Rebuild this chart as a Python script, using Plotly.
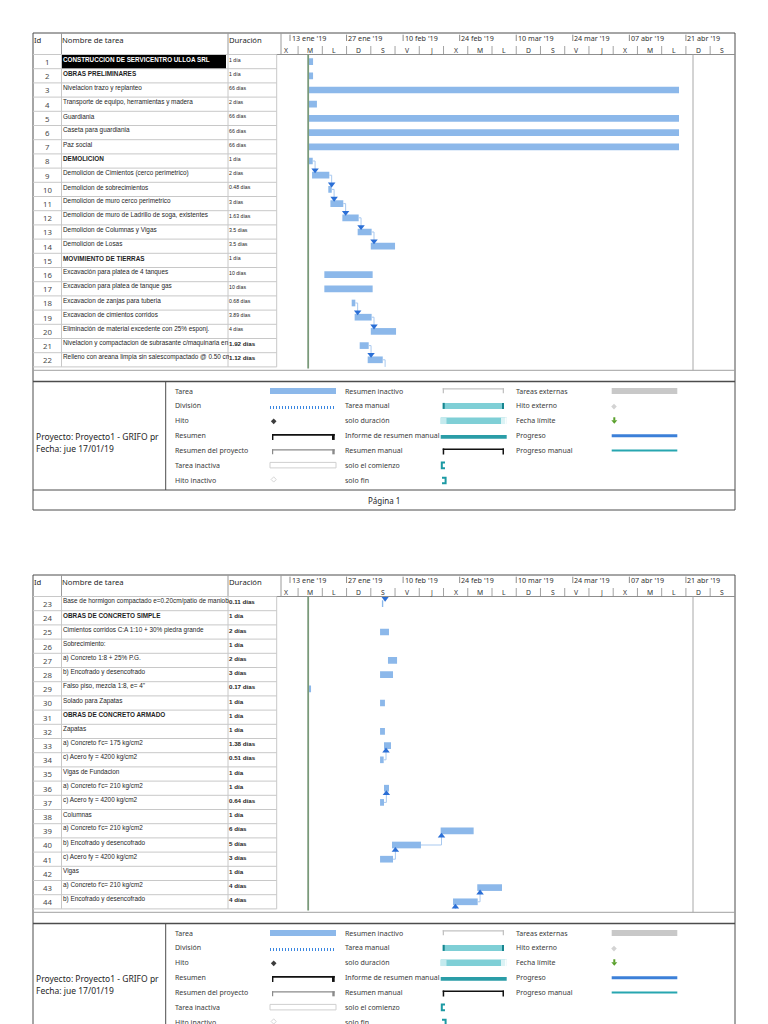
import plotly.graph_objects as go
from datetime import datetime, timedelta

# ---------------- data ----------------
TASK_IDS = list(range(1, 45))
TASK_NAMES = [
    "CONSTRUCCION DE SERVICENTRO ULLOA SRL",
    "OBRAS PRELIMINARES",
    "Nivelacion trazo y replanteo",
    "Transporte de equipo, herramientas y madera",
    "Guardiania",
    "Caseta para guardiania",
    "Paz social",
    "DEMOLICION",
    "Demolicion de Cimientos (cerco perimetrico)",
    "Demolicion de sobrecimientos",
    "Demolicion de muro cerco perimetrico",
    "Demolicion de muro de Ladrillo de soga, existentes",
    "Demolicion de Columnas y Vigas",
    "Demolicion de Losas",
    "MOVIMIENTO DE TIERRAS",
    "Excavación para platea de 4 tanques",
    "Excavacion para platea de tanque gas",
    "Excavacion de zanjas para tuberia",
    "Excavacion de cimientos corridos",
    "Eliminación de material excedente con 25% esponj.",
    "Nivelacion y compactacion de subrasante c/maquinaria en",
    "Relleno con areana limpia sin salescompactado @ 0.50 cm",
    "Base de hormigon compactado e=0.20cm/patio de maniobr",
    "OBRAS DE CONCRETO SIMPLE",
    "Cimientos corridos C:A 1:10 + 30% piedra grande",
    "Sobrecimiento:",
    "a) Concreto 1:8 + 25% P.G.",
    "b) Encofrado y desencofrado",
    "Falso piso, mezcla 1:8, e= 4\"",
    "Solado para Zapatas",
    "OBRAS DE CONCRETO ARMADO",
    "Zapatas",
    "a) Concreto f'c= 175 kg/cm2",
    "c) Acero fy = 4200 kg/cm2",
    "Vigas de Fundacion",
    "a) Concreto f'c= 210 kg/cm2",
    "c) Acero fy = 4200 kg/cm2",
    "Columnas",
    "a) Concreto f'c= 210 kg/cm2",
    "b) Encofrado y desencofrado",
    "c) Acero fy = 4200 kg/cm2",
    "Vigas",
    "a) Concreto f'c= 210 kg/cm2",
    "b) Encofrado y desencofrado",
]
DURATIONS = [
    "1 día", "1 día", "66 días", "2 días", "66 días", "66 días", "66 días", "1 día",
    "2 días", "0.48 días", "3 días", "1.63 días", "3.5 días", "3.5 días", "1 día",
    "10 días", "10 días", "0.68 días", "3.89 días", "4 días", "1.92 días", "1.12 días",
    "0.11 días", "1 día", "2 días", "1 día", "2 días", "3 días", "0.17 días", "1 día",
    "1 día", "1 día", "1.38 días", "0.51 días", "1 día", "1 día", "0.64 días", "1 día",
    "6 días", "5 días", "3 días", "1 día", "4 días", "4 días",
]
BOLD_NAME_IDS = [1, 2, 8, 15, 24, 31]
BOLD_DURATION_IDS = [21, 22] + list(range(23, 45))

START = [
    "2019-01-17 17:00", "2019-01-17 17:00", "2019-01-17 17:00", "2019-01-17 17:00",
    "2019-01-17 17:00", "2019-01-17 17:00", "2019-01-17 17:00", "2019-01-17 13:00",
    "2019-01-18 11:00", "2019-01-22 11:30", "2019-01-23 00:00", "2019-01-25 23:00",
    "2019-01-29 18:00", "2019-02-02 00:00", None, "2019-01-21 12:00",
    "2019-01-21 12:00", "2019-01-28 06:30", "2019-01-29 00:00", "2019-02-02 00:00",
    "2019-01-30 06:00", "2019-02-01 05:30",
    "2019-02-04 18:00", None, "2019-02-04 07:00", None,
    "2019-02-06 06:00", "2019-02-04 07:00", "2019-01-17 17:00", "2019-02-04 07:00",
    None, "2019-02-04 07:00", "2019-02-05 06:30", "2019-02-04 07:00",
    None, "2019-02-05 06:30", "2019-02-04 07:00", None,
    "2019-02-19 07:00", "2019-02-07 06:00", "2019-02-04 07:00", None,
    "2019-02-28 08:30", "2019-02-22 08:30",
]
FINISH = [
    "2019-01-18 17:00", "2019-01-18 17:00", "2019-04-19 07:00", "2019-01-19 16:00",
    "2019-04-19 07:00", "2019-04-19 07:00", "2019-04-19 07:00", "2019-01-18 15:00",
    "2019-01-22 17:30", "2019-01-23 08:00", "2019-01-26 04:30", "2019-01-30 00:00",
    "2019-02-02 05:00", "2019-02-08 00:00", None, "2019-02-02 11:00",
    "2019-02-02 11:00", "2019-01-29 04:00", "2019-02-02 05:00", "2019-02-08 06:00",
    "2019-02-01 11:30", "2019-02-04 23:00",
    "2019-02-05 02:00", None, "2019-02-06 12:00", None,
    "2019-02-08 12:00", "2019-02-07 12:00", "2019-01-18 05:00", "2019-02-05 12:00",
    None, "2019-02-05 12:00", "2019-02-07 00:00", "2019-02-05 04:30",
    None, "2019-02-06 12:00", "2019-02-05 06:30", None,
    "2019-02-27 11:00", "2019-02-14 10:00", "2019-02-07 12:00", None,
    "2019-03-06 11:30", "2019-02-28 11:00",
]
DEPENDENCIES = [(8, 9), (9, 10), (10, 11), (11, 12), (12, 13), (13, 14),
                (18, 19), (19, 20), (21, 22), (22, 23),
                (34, 33), (37, 36), (41, 40), (40, 39), (44, 43)]
INCOMING_FROM_NEXT_PAGE = [44]

TOP_TIER_DATES = ["2019-01-13", "2019-01-27", "2019-02-10", "2019-02-24",
                  "2019-03-10", "2019-03-24", "2019-04-07", "2019-04-21"]
TOP_TIER_LABELS = ["13 ene '19", "27 ene '19", "10 feb '19", "24 feb '19",
                   "10 mar '19", "24 mar '19", "07 abr '19", "21 abr '19"]
BOTTOM_TIER_DATES = ["2019-01-09", "2019-01-15", "2019-01-21", "2019-01-27", "2019-02-02",
                     "2019-02-08", "2019-02-14", "2019-02-20", "2019-02-26", "2019-03-04",
                     "2019-03-10", "2019-03-16", "2019-03-22", "2019-03-28", "2019-04-03",
                     "2019-04-09", "2019-04-15", "2019-04-21", "2019-04-27", "2019-05-03"]
BOTTOM_TIER_LABELS = ["X", "M", "L", "D", "S", "V", "J", "X", "M", "L",
                      "D", "S", "V", "J", "X", "M", "L", "D", "S"]
STATUS_DATE = "2019-01-17 12:00"

HEADERS = ["Id", "Nombre de tarea", "Duración"]
PROJECT_INFO = ["Proyecto: Proyecto1 - GRIFO pr", "Fecha: jue 17/01/19"]
LEGEND_COL1 = ["Tarea", "División", "Hito", "Resumen", "Resumen del proyecto",
               "Tarea inactiva", "Hito inactivo"]
LEGEND_COL2 = ["Resumen inactivo", "Tarea manual", "solo duración",
               "Informe de resumen manual", "Resumen manual", "solo el comienzo", "solo fin"]
LEGEND_COL3 = ["Tareas externas", "Hito externo", "Fecha límite", "Progreso", "Progreso manual"]
FOOTER = "Página 1"

# ---------------- layout constants ----------------
W, H = 768, 1024
PAGE_SHIFT = 542
ROW_H = 14.2
PX_PER_DAY = 4.04
ORIGIN_PX = 290
ORIGIN_DATE = datetime(2019, 1, 13)
TL_LEFT, TL_RIGHT = 281, 735
BAR_COLOR = "#8CB8EA"
ARIAL = "Liberation Sans, Arial, sans-serif"
SEGOE = "Noto Sans, Open Sans, sans-serif"
GRID = "#c8c8c8"
FRAME = "#4d4d4d"


def X(px):
    return px / W


def Y(py):
    return 1 - py / H


def dt(s):
    return datetime.strptime(s, "%Y-%m-%d %H:%M")


def fmt(d):
    return d.strftime("%Y-%m-%d %H:%M:%S")


shapes = []
annotations = []


def line(x0, y0, x1, y1, color, width=1, dash=None, xref="paper"):
    ln = dict(color=color, width=width)
    if dash:
        ln["dash"] = dash
    shapes.append(dict(type="line", xref=xref, yref="paper",
                       x0=X(x0) if xref == "paper" else x0,
                       x1=X(x1) if xref == "paper" else x1,
                       y0=Y(y0), y1=Y(y1), line=ln, layer="above"))


def rect(x0, y0, x1, y1, fill, border=None, bw=0):
    shapes.append(dict(type="rect", xref="paper", yref="paper",
                       x0=X(x0), x1=X(x1), y0=Y(y1), y1=Y(y0),
                       fillcolor=fill, line=dict(color=border or fill, width=bw),
                       layer="above"))


def path(points, fill=None, color=None, width=0, closed=True):
    d = "M " + " L ".join(f"{X(a):.5f},{Y(b):.5f}" for a, b in points)
    if closed:
        d += " Z"
    sh = dict(type="path", xref="paper", yref="paper", path=d,
              line=dict(color=color or "rgba(0,0,0,0)", width=width), layer="above")
    sh["fillcolor"] = fill if fill else "rgba(0,0,0,0)"
    shapes.append(sh)


def txt(x, y, s, size, family=SEGOE, color="#262626", xanchor="left",
        bold=False, xref="paper", bg=None):
    a = dict(x=X(x) if xref == "paper" else x, y=Y(y), xref=xref, yref="paper",
             text=f"<b>{s}</b>" if bold else s, showarrow=False,
             xanchor=xanchor, yanchor="middle", borderpad=0, borderwidth=0,
             font=dict(size=size, family=family, color=color))
    if bg:
        a["bgcolor"] = bg
    annotations.append(a)


def diamond(cx, cy, r, fill, border=None):
    path([(cx - r, cy), (cx, cy - r), (cx + r, cy), (cx, cy + r)], fill=fill,
         color=border, width=1 if border else 0)


def bracket(x0, x1, ytop, ybot, th, lcap, rcap, color):
    rect(x0, ytop, x1, ytop + th, color)
    rect(x0, ytop, x0 + lcap, ybot, color)
    rect(x1 - rcap, ytop, x1, ybot, color)


fig = go.Figure()

pages = [dict(off=0, lo=1, hi=22, xa="x2", ya="y2", bottom=510),
         dict(off=PAGE_SHIFT, lo=23, hi=44, xa="x3", ya="y3", bottom=1070)]

for pg in pages:
    off = pg["off"]
    top = 33 + off
    hdr_bot = 54.5 + off
    rows_top = hdr_bot
    rows_bot = rows_top + 22 * ROW_H
    legend_top = 381.5 + off
    footer_y = 490 + off

    # page frame and structure
    rect(33, top, 735, pg["bottom"], "rgba(0,0,0,0)", FRAME, 1)
    line(33, hdr_bot, 735, hdr_bot, "#8f8f8f", 1)
    for vx in (61.5, 228, 281):
        line(vx, top, vx, hdr_bot, "#9a9a9a", 1)
    # table grid
    for k in range(23):
        yy = rows_top + k * ROW_H
        line(33, yy, 276.7, yy, GRID, 1)
    for vx in (61.5, 228, 276.7):
        line(vx, rows_top, vx, rows_bot, GRID, 1)
    line(33, 370.3 + off, 735, 370.3 + off, "#a0a0a0", 1)
    line(33, legend_top, 735, legend_top, FRAME, 1.5)
    line(165.7, legend_top, 165.7, footer_y, FRAME, 1)
    line(33, footer_y, 735, footer_y, FRAME, 1)
    line(693, hdr_bot, 693, 370.3 + off, "#a8a8a8", 1)

    # header labels
    hy = 40 + off
    txt(34, hy, HEADERS[0], 7.7)
    txt(62, hy, HEADERS[1], 7.7)
    txt(228.5, hy, HEADERS[2], 7.7)

    # timescale header
    for d, lab in zip(TOP_TIER_DATES, TOP_TIER_LABELS):
        line(d, 34.7 + off, d, 41 + off, "#6e6e6e", 0.8, xref=pg["xa"])
        a = dict(x=d, y=Y(38.2 + off), xref=pg["xa"], yref="paper", text=lab,
                 showarrow=False, xanchor="left", yanchor="middle", xshift=1.5,
                 borderpad=0, borderwidth=0,
                 font=dict(size=7.2, family=SEGOE, color="#333"))
        annotations.append(a)
    for d in BOTTOM_TIER_DATES[1:-1]:
        line(d, 46 + off, d, hdr_bot, "#8a8a8a", 0.8, xref=pg["xa"])
    for d, lab in zip(BOTTOM_TIER_DATES[:-1], BOTTOM_TIER_LABELS):
        mid = fmt(datetime.strptime(d, "%Y-%m-%d") + timedelta(days=3))
        txt(mid, 50.5 + off, lab, 6.8, color="#333", xanchor="center", xref=pg["xa"])

    # status date line
    line(STATUS_DATE, hdr_bot, STATUS_DATE, rows_bot + 1.5, "#7a9a7a", 1.8, xref=pg["xa"])

    # table rows
    for i, tid in enumerate(range(pg["lo"], pg["hi"] + 1)):
        cy = rows_top + (i + 0.5) * ROW_H
        name = TASK_NAMES[tid - 1]
        if tid == 1:
            rect(62, rows_top + 0.6, 226, rows_top + ROW_H - 0.4, "#000000")
            txt(63, cy - 2.6, name, 6.3, ARIAL, "#ffffff", bold=True)
        else:
            txt(63, cy - 2.4, name, 6.4, ARIAL, "#1e1e1e", bold=tid in BOLD_NAME_IDS)
        txt(47.3, cy + 0.3, str(tid), 7.8, SEGOE, "#4a4a4a", xanchor="center")
        bold_d = tid in BOLD_DURATION_IDS
        txt(229, cy - 2.0, DURATIONS[tid - 1], 6.2 if bold_d else 5.2, ARIAL, "#1e1e1e",
            bold=bold_d, bg="#ffffff")

    # legend
    txt(36, 436 + off, PROJECT_INFO[0], 8.5, SEGOE, "#262626")
    txt(36, 448 + off, PROJECT_INFO[1], 8.5, SEGOE, "#262626")
    ly = [391 + k * 14.88 + off for k in range(7)]
    for k, lab in enumerate(LEGEND_COL1):
        txt(174.5, ly[k], lab, 7, SEGOE, "#3a3a3a")
    for k, lab in enumerate(LEGEND_COL2):
        txt(344.7, ly[k], lab, 7, SEGOE, "#3a3a3a")
    for k, lab in enumerate(LEGEND_COL3):
        txt(516, ly[k], lab, 7, SEGOE, "#3a3a3a")

    # legend samples, column 1
    rect(270, ly[0] - 3, 336, ly[0] + 3, BAR_COLOR)
    line(270, ly[1] + 1.5, 336, ly[1] + 1.5, "#3a86e0", 3, dash="1px,2px")
    diamond(273.7, ly[2] + 0.6, 2.8, "#3c3c3c")
    bracket(272, 334.7, ly[3] - 1.7, ly[3] + 4.3, 1.8, 1.4, 2.7, "#111111")
    bracket(272, 334.7, ly[4] - 1.2, ly[4] + 3.8, 1.2, 1.2, 2.4, "#8a8a8a")
    rect(270, ly[5] - 3, 336, ly[5] + 2.5, "#ffffff", "#cfcfcf", 1)
    diamond(273.7, ly[6] - 0.8, 2.6, "#ffffff", "#d6d6d6")
    # column 2
    bracket(442.7, 504, ly[0] - 2.7, ly[0] + 2.3, 1.2, 1.3, 1.3, "#c2c2c2")
    rect(442.7, ly[1] - 3, 504, ly[1] + 3, "#7fcfd6")
    rect(442.7, ly[1] - 3, 444.7, ly[1] + 3, "#16858f")
    rect(502, ly[1] - 3, 504, ly[1] + 3, "#16858f")
    rect(440.7, ly[2] - 3.3, 506.7, ly[2] + 3.3, "#7fcfd6")
    rect(440.7, ly[2] - 3.3, 446.5, ly[2] + 3.3, "#c4eaee")
    rect(501, ly[2] - 3.3, 506.7, ly[2] + 3.3, "#dcf3f5")
    rect(505.2, ly[2] - 3.3, 506.7, ly[2] + 3.3, "#ffffff")
    rect(440.7, ly[3] - 0.7, 506.7, ly[3] + 3, "#2a9da7")
    bracket(442.7, 504, ly[4] - 2, ly[4] + 4, 1.6, 1.5, 1.5, "#111111")
    path([(445, ly[5] - 2.8), (441.8, ly[5] - 2.8), (441.8, ly[5] + 2.8), (445, ly[5] + 2.8)],
         color="#1c9aa4", width=2, closed=False)
    path([(442, ly[6] - 2.6), (445.6, ly[6] - 2.6), (445.6, ly[6] + 3), (442, ly[6] + 3)],
         color="#1c9aa4", width=2, closed=False)
    # column 3
    rect(611.7, ly[0] - 3, 677.3, ly[0] + 3, "#c8c8c8")
    diamond(614, ly[1] + 0.7, 2.8, "#d3d3d3")
    rect(613.3, ly[2] - 3.5, 615.3, ly[2] - 0.2, "#5aa02c")
    path([(611.3, ly[2] - 0.5), (617.3, ly[2] - 0.5), (614.3, ly[2] + 3)], fill="#5aa02c")
    rect(611.7, ly[3] - 1.5, 677.3, ly[3] + 1.5, "#3c80d8")
    rect(611.7, ly[4] - 1, 677.3, ly[4] + 1, "#27a6b0")

    if off == 0:
        txt(384, 500.5, FOOTER, 8, SEGOE, "#262626", xanchor="center")

    # gantt bars from the data
    ys, xs, bs = [], [], []
    for tid, s, f in zip(TASK_IDS, START, FINISH):
        if pg["lo"] <= tid <= pg["hi"] and s:
            ys.append(tid)
            bs.append(s)
            xs.append((dt(f) - dt(s)).total_seconds() * 1000)
    fig.add_trace(go.Bar(orientation="h", y=ys, x=xs, base=bs, width=0.47,
                         marker=dict(color=BAR_COLOR, line=dict(width=0)),
                         xaxis=pg["xa"], yaxis=pg["ya"], hoverinfo="skip",
                         showlegend=False))

# ---------------- dependency connectors ----------------
GAP = timedelta(hours=14)
HALF = 0.235
ARW = 0.13


def page_of(t):
    return 0 if t <= 22 else 1


conn = [([], []), ([], [])]
arrows = [{"down": ([], []), "up": ([], [])}, {"down": ([], []), "up": ([], [])}]
for p, s in DEPENDENCIES:
    p_end = dt(FINISH[p - 1])
    s_start = dt(START[s - 1])
    ax = p_end + GAP if s_start <= p_end + GAP else s_start + timedelta(hours=5)
    down = s > p
    edge = s - HALF if down else s + HALF
    pp, sp = page_of(p), page_of(s)
    if pp == sp:
        conn[pp][0].extend([fmt(p_end), fmt(ax), fmt(ax), None])
        conn[pp][1].extend([p, p, edge, None])
    else:
        brk = 22.5
        conn[pp][0].extend([fmt(p_end), fmt(ax), fmt(ax), None])
        conn[pp][1].extend([p, p, brk, None])
        conn[sp][0].extend([fmt(ax), fmt(ax), None])
        conn[sp][1].extend([brk, edge, None])
    key = "down" if down else "up"
    arrows[sp][key][0].append(fmt(ax))
    arrows[sp][key][1].append(edge - ARW if down else edge + ARW)
for s in INCOMING_FROM_NEXT_PAGE:
    ax = dt(START[s - 1]) + GAP
    edge = s + HALF
    conn[1][0].extend([fmt(ax), fmt(ax), None])
    conn[1][1].extend([44.5, edge, None])
    arrows[1]["up"][0].append(fmt(ax))
    arrows[1]["up"][1].append(edge + ARW)

for i, pg in enumerate(pages):
    fig.add_trace(go.Scatter(x=conn[i][0], y=conn[i][1], mode="lines",
                             line=dict(color="#a9c9ef", width=1),
                             xaxis=pg["xa"], yaxis=pg["ya"], hoverinfo="skip",
                             showlegend=False, connectgaps=False))
    for key, sym in (("down", "triangle-down"), ("up", "triangle-up")):
        xs, ys = arrows[i][key]
        if xs:
            fig.add_trace(go.Scatter(x=xs, y=ys, mode="markers",
                                     marker=dict(symbol=sym, size=6.5, color="#2b6fd6",
                                                 line=dict(width=0)),
                                     xaxis=pg["xa"], yaxis=pg["ya"], hoverinfo="skip",
                                     showlegend=False, cliponaxis=False))

# ---------------- axes ----------------
left_date = ORIGIN_DATE + timedelta(days=(TL_LEFT - ORIGIN_PX) / PX_PER_DAY)
right_date = ORIGIN_DATE + timedelta(days=(TL_RIGHT - ORIGIN_PX) / PX_PER_DAY)
xr = [fmt(left_date), fmt(right_date)]
x_dom = [X(TL_LEFT), X(TL_RIGHT)]
p1_top, p2_top = 54.5, 54.5 + PAGE_SHIFT
axis_common = dict(visible=False, fixedrange=True, showgrid=False, zeroline=False)

fig.update_layout(
    width=W, height=H, margin=dict(l=0, r=0, t=0, b=0),
    paper_bgcolor="#ffffff", plot_bgcolor="rgba(0,0,0,0)",
    showlegend=False, hovermode=False, barmode="overlay",
    xaxis=dict(visible=False, domain=[0, 1]),
    yaxis=dict(visible=False, domain=[0, 1]),
    xaxis2=dict(type="date", range=xr, domain=x_dom, anchor="y2", **axis_common),
    yaxis2=dict(range=[22.5, 0.5], domain=[Y(p1_top + 22 * ROW_H), Y(p1_top)],
                anchor="x2", **axis_common),
    xaxis3=dict(type="date", range=xr, domain=x_dom, anchor="y3", **axis_common),
    yaxis3=dict(range=[44.5, 22.5], domain=[Y(p2_top + 22 * ROW_H), Y(p2_top)],
                anchor="x3", **axis_common),
    shapes=shapes, annotations=annotations,
)

fig.write_html(
    "out.html",
    config={"displayModeBar": False, "staticPlot": True},
    post_script="document.body.style.margin='0px';document.body.style.overflow='hidden';",
)
